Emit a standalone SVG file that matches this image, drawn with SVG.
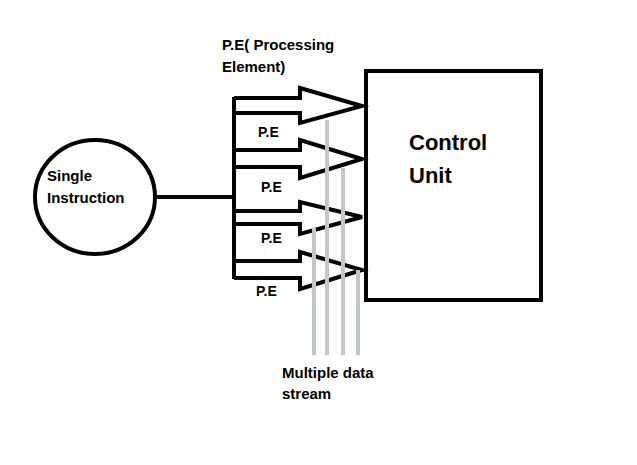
<svg xmlns="http://www.w3.org/2000/svg" width="637" height="465" viewBox="0 0 637 465">
<style>
.k{fill:none;stroke:#000;stroke-width:4;stroke-linejoin:miter}
.g{stroke:#c0c8c8;stroke-width:4}
text{font-family:"Liberation Sans",Arial,sans-serif;font-weight:bold;fill:#000}
</style>
<rect width="637" height="465" fill="#fff"/>
<g id="connectors">
<line class="k" x1="155" y1="197" x2="234" y2="197"/>
<path class="k" d="M234 97V279"/>
<path class="k" d="M234 98H300V88L362 106L300 123V113H234"/>
<path class="k" d="M234 150H300V140L362 159L300 178V167H234"/>
<path class="k" d="M234 211H300V202L362 217L300 234V224H234"/>
<path class="k" d="M234 261H300V252L362 270L300 289V278H234"/>
<line class="g" x1="327" y1="120" x2="327" y2="355"/>
<line class="g" x1="343" y1="168" x2="343" y2="355"/>
<line class="g" x1="314" y1="228" x2="314" y2="355"/>
<line class="g" x1="358" y1="270" x2="358" y2="355"/>
</g>
<g id="single"><ellipse class="k" cx="95" cy="197" rx="60" ry="57"/>
<text x="47" y="181" font-size="15">Single</text><text x="47" y="203" font-size="15">Instruction</text></g>
<g id="cu"><rect class="k" x="366" y="71" width="175" height="229"/>
<text x="409" y="150" font-size="22">Control</text><text x="409" y="183" font-size="22">Unit</text></g>
<g id="labels" font-size="14">
<text x="222" y="50" font-size="15">P.E( Processing</text><text x="222" y="72" font-size="15">Element)</text>
<text x="258" y="137">P.E</text><text x="261" y="192">P.E</text><text x="261" y="243">P.E</text><text x="256" y="296">P.E</text>
<text x="282" y="378" font-size="15">Multiple data</text><text x="282" y="399" font-size="15">stream</text>
</g>
</svg>
